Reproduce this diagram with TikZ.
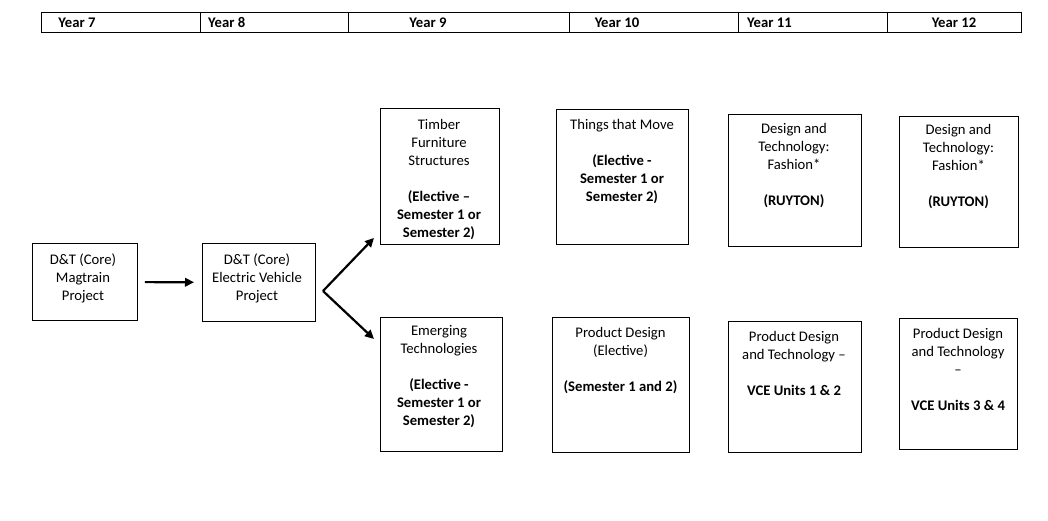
\documentclass[tikz,border=0pt]{standalone}
\usepackage{fontspec}
\setmainfont{Carlito}
\usetikzlibrary{arrows.meta}
\begin{document}
\begin{tikzpicture}[x=1pt,y=-1pt,
  box/.style={draw, line width=0.9pt, anchor=north west, inner sep=0pt},
  txt/.style={anchor=north, align=center, inner sep=0pt, font=\fontsize{14.67}{17.9}\selectfont},
  hd/.style={font=\fontsize{14.67}{17.9}\selectfont\bfseries, inner sep=0pt, anchor=base},
  arr/.style={line width=2.2pt, -{Triangle[length=9pt,width=8.5pt]}}]
\useasboundingbox (0,0) rectangle (1048,521);
% header table
\draw[line width=0.9pt] (41,12) rectangle (1021,32);
\foreach \x in {200,348,569,738,887} \draw[line width=0.9pt] (\x,12) -- (\x,32);
\node[hd] (y7) at (77,27.8) {Year 7};
\node[hd, anchor=base west] (y8) at (208,27.8) {Year 8};
\node[hd] (y9) at (428,27.8) {Year 9};
\node[hd] (y10) at (617,27.8) {Year 10};
\node[hd, anchor=base west] (y11) at (747,27.8) {Year 11};
\node[hd] (y12) at (954,27.8) {Year 12};
% boxes
\node[box, minimum width=105pt, minimum height=77pt] (mag) at (32,243) {};
\node[box, minimum width=113pt, minimum height=78pt] (ev) at (202,243) {};
\node[box, minimum width=119pt, minimum height=136pt] (timber) at (380,108) {};
\node[box, minimum width=122pt, minimum height=134pt] (emer) at (380,317) {};
\node[box, minimum width=132pt, minimum height=135pt] (things) at (556,109) {};
\node[box, minimum width=137pt, minimum height=135pt] (pd) at (552,317) {};
\node[box, minimum width=133pt, minimum height=132pt] (fa) at (728,114) {};
\node[box, minimum width=133pt, minimum height=131pt] (pdta) at (728,321) {};
\node[box, minimum width=119pt, minimum height=131pt] (fb) at (899,116) {};
\node[box, minimum width=118pt, minimum height=131pt] (pdtb) at (899,318) {};
% texts
\node[txt] (magt) at (83,253.5) {D\&T (Core)\\Magtrain\\Project};
\node[txt] (evt) at (257,253.5) {D\&T (Core)\\Electric Vehicle\\Project};
\node[txt] (timbert) at (439,119.5) {Timber\\Furniture\\Structures\\[17.9pt]\textbf{(Elective \textendash}\\\textbf{Semester 1 or}\\\textbf{Semester 2)}};
\node[txt] (emert) at (439,325.5) {Emerging\\Technologies\\[17.9pt]\textbf{(Elective -}\\\textbf{Semester 1 or}\\\textbf{Semester 2)}};
\node[txt] (thingst) at (622,119.5) {Things that Move\\[17.9pt]\textbf{(Elective -}\\\textbf{Semester 1 or}\\\textbf{Semester 2)}};
\node[txt] (pdt) at (620.5,327.5) {Product Design\\(Elective)\\[17.9pt]\textbf{(Semester 1 and 2)}};
\node[txt] (fat) at (794,123.5) {Design and\\Technology:\\Fashion*\\[17.9pt]\textbf{(RUYTON)}};
\node[txt] (pdtat) at (794,331.5) {Product Design\\and Technology \textendash\\[17.9pt]\textbf{VCE Units 1 \& 2}};
\node[txt] (fbt) at (958.5,124.5) {Design and\\Technology:\\Fashion*\\[17.9pt]\textbf{(RUYTON)}};
\node[txt] (pdtbt) at (958,328.5) {Product Design\\and Technology\\\textendash\\[17.9pt]\textbf{VCE Units 3 \& 4}};
% arrows
\draw[arr, shorten <=7pt, shorten >=8pt] (mag) -- (ev);
\coordinate (split) at (323,291);
\draw[arr] (split) -- ([xshift=-6pt,yshift=7pt]timber.south west);
\draw[arr] (split) -- ([xshift=-6pt,yshift=-22pt]emer.north west);
\end{tikzpicture}
\end{document}
